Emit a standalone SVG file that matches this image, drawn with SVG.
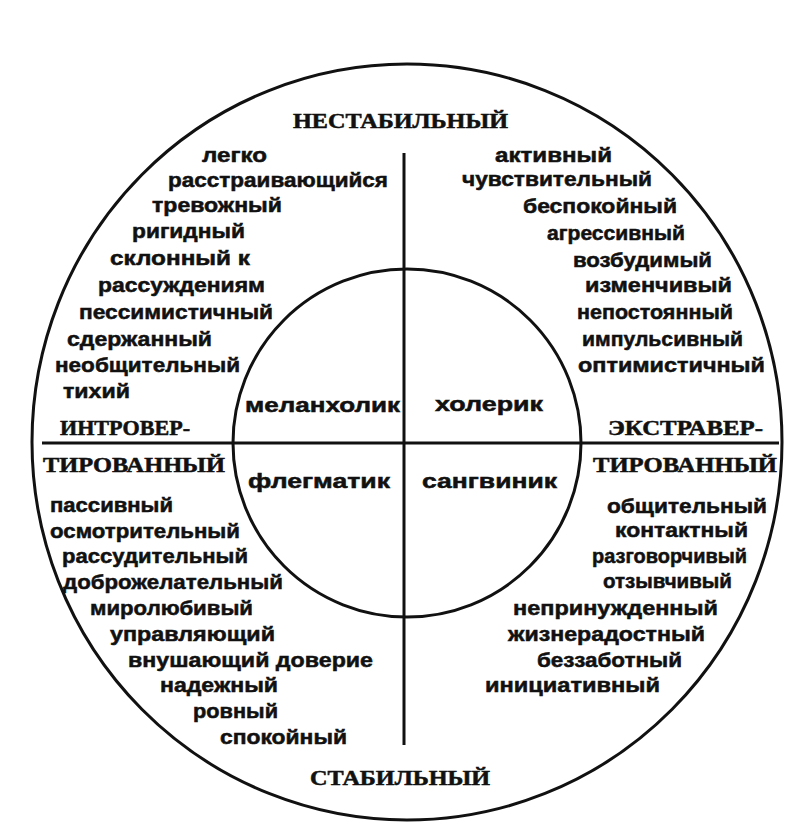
<svg xmlns="http://www.w3.org/2000/svg" width="800" height="837" viewBox="0 0 800 837">
<style>
.c{fill:none;stroke:#111;stroke-width:3}
.ax{stroke:#111;stroke-width:3}
text{font-family:"Liberation Sans","DejaVu Sans",sans-serif;font-weight:bold;font-size:20px;fill:#111;stroke:#111;stroke-width:0.5}
.cap{font-family:"Liberation Serif","DejaVu Serif",serif;font-size:20px}
</style>
<rect width="800" height="837" fill="#fff"/>
<g id="outer-circle"><ellipse class="c" cx="407" cy="442" rx="375" ry="378"/></g>
<g id="inner-circle"><circle class="c" cx="407" cy="443" r="174"/></g>
<g id="axes">
<line class="ax" x1="42" y1="443" x2="779" y2="443"/>
<line class="ax" x1="404" y1="153" x2="404" y2="745"/>
</g>
<g id="poles">
<text class="cap" x="293" y="128" textLength="215" lengthAdjust="spacingAndGlyphs">НЕСТАБИЛЬНЫЙ</text>
<text class="cap" x="310" y="785" textLength="180" lengthAdjust="spacingAndGlyphs">СТАБИЛЬНЫЙ</text>
<text class="cap" x="60" y="435" textLength="130" lengthAdjust="spacingAndGlyphs">ИНТРОВЕР-</text>
<text class="cap" x="43" y="472" textLength="182" lengthAdjust="spacingAndGlyphs">ТИРОВАННЫЙ</text>
<text class="cap" x="608" y="435" textLength="155" lengthAdjust="spacingAndGlyphs">ЭКСТРАВЕР-</text>
<text class="cap" x="593" y="472" textLength="184" lengthAdjust="spacingAndGlyphs">ТИРОВАННЫЙ</text>
</g>
<g id="temperaments">
<text x="245" y="412" textLength="155" lengthAdjust="spacingAndGlyphs">меланхолик</text>
<text x="435" y="411" textLength="108" lengthAdjust="spacingAndGlyphs">холерик</text>
<text x="248" y="488" textLength="142" lengthAdjust="spacingAndGlyphs">флегматик</text>
<text x="422" y="488" textLength="135" lengthAdjust="spacingAndGlyphs">сангвиник</text>
</g>
<g id="melancholic-traits">
<text x="202" y="162" textLength="65" lengthAdjust="spacingAndGlyphs">легко</text>
<text x="168" y="187" textLength="220" lengthAdjust="spacingAndGlyphs">расстраивающийся</text>
<text x="152" y="212" textLength="130" lengthAdjust="spacingAndGlyphs">тревожный</text>
<text x="132" y="238" textLength="113" lengthAdjust="spacingAndGlyphs">ригидный</text>
<text x="110" y="265" textLength="140" lengthAdjust="spacingAndGlyphs">склонный к</text>
<text x="98" y="292" textLength="167" lengthAdjust="spacingAndGlyphs">рассуждениям</text>
<text x="79" y="319" textLength="194" lengthAdjust="spacingAndGlyphs">пессимистичный</text>
<text x="67" y="346" textLength="145" lengthAdjust="spacingAndGlyphs">сдержанный</text>
<text x="55" y="372" textLength="185" lengthAdjust="spacingAndGlyphs">необщительный</text>
<text x="63" y="398" textLength="67" lengthAdjust="spacingAndGlyphs">тихий</text>
</g>
<g id="choleric-traits">
<text x="495" y="162" textLength="117" lengthAdjust="spacingAndGlyphs">активный</text>
<text x="462" y="186" textLength="190" lengthAdjust="spacingAndGlyphs">чувствительный</text>
<text x="523" y="213" textLength="154" lengthAdjust="spacingAndGlyphs">беспокойный</text>
<text x="547" y="240" textLength="138" lengthAdjust="spacingAndGlyphs">агрессивный</text>
<text x="573" y="267" textLength="139" lengthAdjust="spacingAndGlyphs">возбудимый</text>
<text x="585" y="292" textLength="147" lengthAdjust="spacingAndGlyphs">изменчивый</text>
<text x="577" y="319" textLength="156" lengthAdjust="spacingAndGlyphs">непостоянный</text>
<text x="582" y="346" textLength="161" lengthAdjust="spacingAndGlyphs">импульсивный</text>
<text x="578" y="372" textLength="187" lengthAdjust="spacingAndGlyphs">оптимистичный</text>
</g>
<g id="phlegmatic-traits">
<text x="50" y="512" textLength="123" lengthAdjust="spacingAndGlyphs">пассивный</text>
<text x="50" y="538" textLength="190" lengthAdjust="spacingAndGlyphs">осмотрительный</text>
<text x="62" y="563" textLength="186" lengthAdjust="spacingAndGlyphs">рассудительный</text>
<text x="63" y="589" textLength="220" lengthAdjust="spacingAndGlyphs">доброжелательный</text>
<text x="90" y="615" textLength="163" lengthAdjust="spacingAndGlyphs">миролюбивый</text>
<text x="110" y="641" textLength="165" lengthAdjust="spacingAndGlyphs">управляющий</text>
<text x="128" y="667" textLength="245" lengthAdjust="spacingAndGlyphs">внушающий доверие</text>
<text x="160" y="692" textLength="118" lengthAdjust="spacingAndGlyphs">надежный</text>
<text x="193" y="718" textLength="85" lengthAdjust="spacingAndGlyphs">ровный</text>
<text x="220" y="744" textLength="127" lengthAdjust="spacingAndGlyphs">спокойный</text>
</g>
<g id="sanguine-traits">
<text x="607" y="513" textLength="160" lengthAdjust="spacingAndGlyphs">общительный</text>
<text x="615" y="537" textLength="133" lengthAdjust="spacingAndGlyphs">контактный</text>
<text x="592" y="563" textLength="155" lengthAdjust="spacingAndGlyphs">разговорчивый</text>
<text x="603" y="588" textLength="129" lengthAdjust="spacingAndGlyphs">отзывчивый</text>
<text x="513" y="615" textLength="205" lengthAdjust="spacingAndGlyphs">непринужденный</text>
<text x="508" y="641" textLength="197" lengthAdjust="spacingAndGlyphs">жизнерадостный</text>
<text x="537" y="667" textLength="145" lengthAdjust="spacingAndGlyphs">беззаботный</text>
<text x="485" y="692" textLength="175" lengthAdjust="spacingAndGlyphs">инициативный</text>
</g>
</svg>
